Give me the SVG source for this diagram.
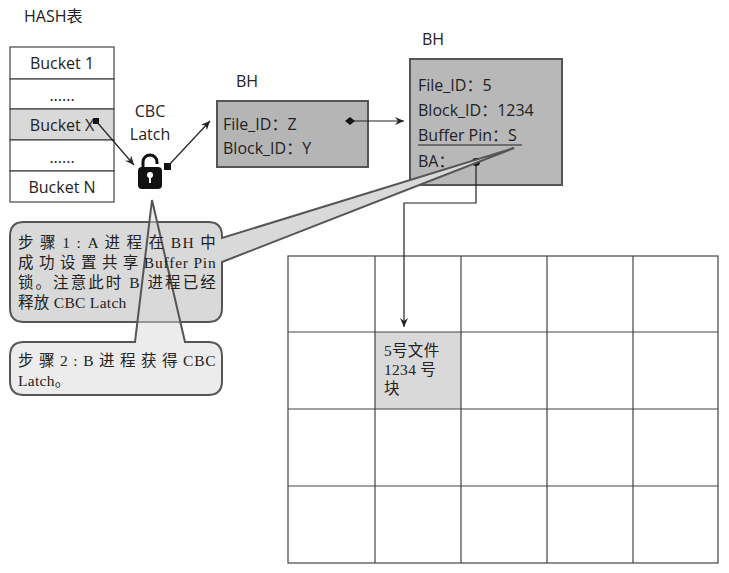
<svg xmlns="http://www.w3.org/2000/svg" width="729" height="573" viewBox="0 0 729 573">
<style>
.s{font-family:"Open Sans","Noto Sans CJK SC",sans-serif;font-size:16px;fill:#222}
.c{font-family:"Liberation Serif","Noto Sans CJK SC",serif;font-size:15.5px;fill:#222;letter-spacing:0.3px}
.cell{fill:#fff;stroke:#444;stroke-width:1.2}
.ln{stroke:#222;stroke-width:1.2;fill:none}
</style>
<defs>
<marker id="a" markerWidth="10" markerHeight="10" refX="9" refY="5" orient="auto" markerUnits="userSpaceOnUse"><path d="M0,1 L9,5 L0,9 L3,5 Z" fill="#222"/></marker>
</defs>
<rect width="729" height="573" fill="#fff"/>
<text class="s" x="24" y="22">HASH表</text>
<g id="hash">
<rect class="cell" x="10" y="47" width="104" height="32"/>
<rect class="cell" x="10" y="79" width="104" height="30"/>
<rect x="10" y="109" width="104" height="31" fill="#d9d9d9" stroke="#444" stroke-width="1.2"/>
<rect class="cell" x="10" y="140" width="104" height="31"/>
<rect class="cell" x="10" y="171" width="104" height="31"/>
<text class="s" x="62" y="69" text-anchor="middle">Bucket 1</text>
<text class="s" x="62" y="101" text-anchor="middle" font-size="12">......</text>
<text class="s" x="62" y="131" text-anchor="middle">Bucket X</text>
<text class="s" x="62" y="163" text-anchor="middle" font-size="12">......</text>
<text class="s" x="62" y="193" text-anchor="middle">Bucket N</text>
</g>
<g id="latch">
<text class="s" x="150" y="117" text-anchor="middle">CBC</text>
<text class="s" x="150" y="140" text-anchor="middle">Latch</text>
<path d="M143,168 v-6 a7,7 0 0 1 14,0 v2" fill="none" stroke="#111" stroke-width="3"/>
<rect x="138" y="167" width="24" height="22" rx="4" fill="#111"/>
<circle cx="150" cy="175" r="3" fill="#fff"/>
<rect x="149" y="176" width="2" height="7" fill="#fff"/>
</g>
<g id="bh1">
<text class="s" x="236" y="87">BH</text>
<rect x="217" y="101" width="151" height="66" fill="#b5b5b5" stroke="#555" stroke-width="2"/>
<text class="s" x="223" y="130">File_ID：Z</text>
<text class="s" x="223" y="154">Block_ID：Y</text>
</g>
<g id="bh2">
<text class="s" x="422" y="45">BH</text>
<rect x="410" y="59" width="152" height="126" fill="#b8b8b8" stroke="#555" stroke-width="2"/>
<text class="s" x="418" y="91">File_ID：5</text>
<text class="s" x="418" y="116">Block_ID：1234</text>
<text class="s" x="418" y="141">Buffer Pin：S</text>
<line x1="418" y1="145" x2="522" y2="145" stroke="#222" stroke-width="1.2"/>
<text class="s" x="418" y="167">BA：</text>
</g>
<g id="grid">
<rect x="288" y="256" width="430" height="307" fill="#fff" stroke="#444" stroke-width="1.2"/>
<rect x="375" y="332" width="86" height="77" fill="#d9d9d9"/>
<path d="M375,256V563M461,256V563M547,256V563M633,256V563M288,332H718M288,409H718M288,486H718" stroke="#444" stroke-width="1.2"/>
<text class="c" x="384" y="356">5号文件</text>
<text class="c" x="384" y="375">1234 号</text>
<text class="c" x="384" y="394">块</text>
</g>
<g id="connectors">
<rect x="93" y="118" width="6" height="6" fill="#111"/>
<line class="ln" x1="96" y1="121" x2="134" y2="165" marker-end="url(#a)"/>
<rect x="164" y="163" width="7" height="7" fill="#111"/>
<line class="ln" x1="168" y1="166" x2="210" y2="121" marker-end="url(#a)"/>
<path d="M345,121 l5,-4 l5,4 l-5,4 Z" fill="#111"/>
<line class="ln" x1="350" y1="121" x2="404" y2="121" marker-end="url(#a)"/>
<circle cx="476" cy="162" r="4" fill="#111"/>
<path class="ln" d="M476,162 V203 H404 V327" marker-end="url(#a)"/>
</g>
<g id="callout1">
<path d="M24,222 H208 Q222,222 222,236 V238 L514,148 L222,262 V308 Q222,322 208,322 H24 Q10,322 10,308 V236 Q10,222 24,222 Z" fill="#d9d9d9" stroke="#555" stroke-width="2"/>
</g>
<g id="callout2">
<path d="M24,342 H135 L152,200 L185,342 H208 Q222,342 222,356 V381 Q222,395 208,395 H24 Q10,395 10,381 V356 Q10,342 24,342 Z" fill="#d9d9d9" fill-opacity="0.5" stroke="#555" stroke-width="2"/>
<text class="c" x="18" y="366" textLength="198">步 骤 2 : B 进 程 获 得 CBC</text>
<text class="c" x="18" y="386">Latch。</text>
</g>
<g id="callout1-text">
<text class="c" x="18" y="248" textLength="198">步 骤 1 : A 进 程 在 BH 中</text>
<text class="c" x="18" y="268" textLength="198">成 功 设 置 共 享 Buffer Pin</text>
<text class="c" x="18" y="288" textLength="198">锁。注意此时 B 进程已经</text>
<text class="c" x="18" y="308">释放 CBC Latch</text>
</g>
</svg>
